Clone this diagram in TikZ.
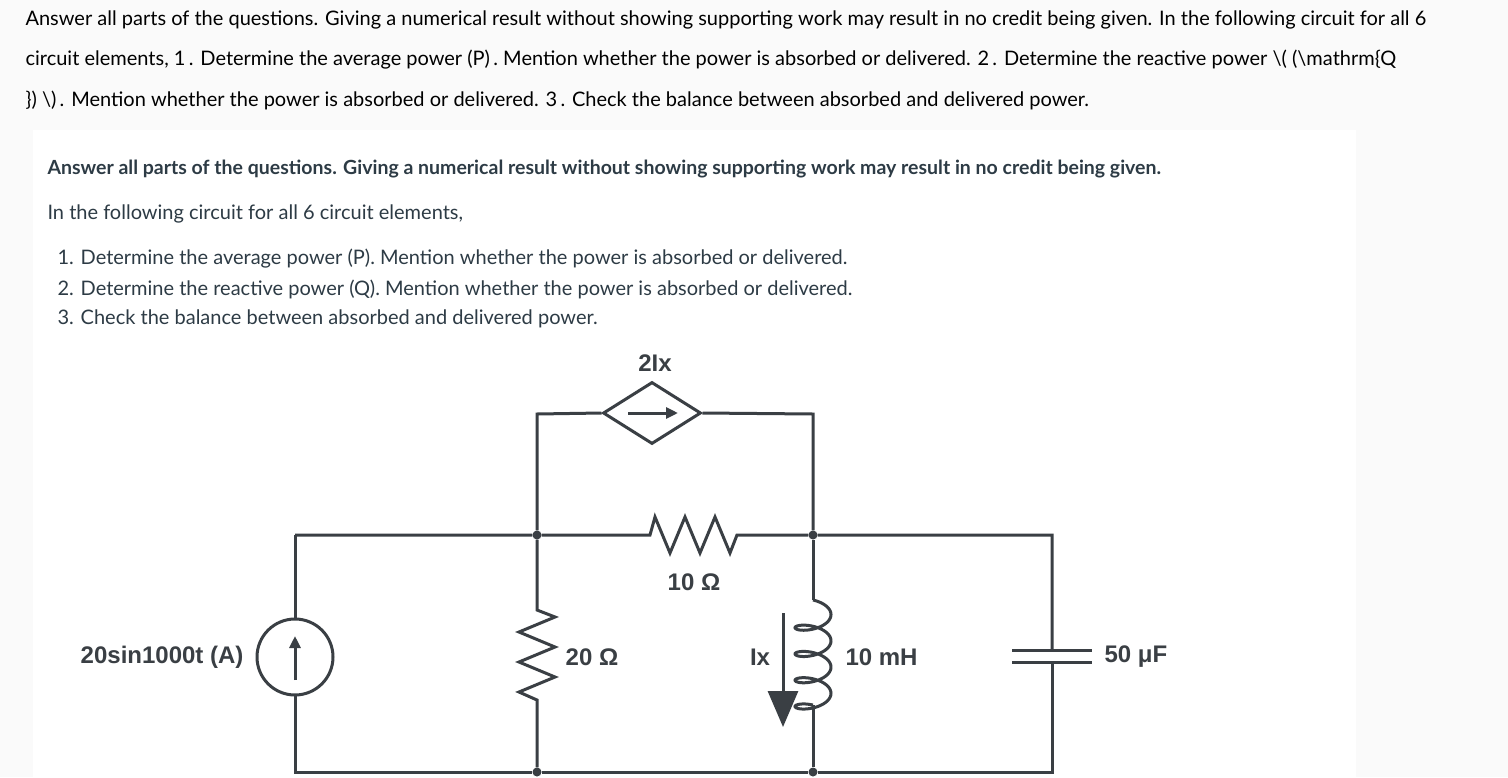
\documentclass[tikz,border=0pt]{standalone}
\usepackage{fontspec}
\setmainfont{Lato}
\newfontfamily\arialf{Liberation Sans}
\usetikzlibrary{arrows.meta,shapes.geometric}
\definecolor{wire}{HTML}{3A3F44}
\definecolor{txt}{HTML}{2D3B45}
\begin{document}
\begin{tikzpicture}[x=1pt,y=-1pt,
  w/.style={draw=wire,line width=3pt},
  dot/.style={circle,fill=wire,inner sep=0pt,minimum size=9pt},
  lab/.style={font=\arialf\bfseries\fontsize{24}{28}\selectfont,text=wire},
  q/.style={anchor=west,font=\fontsize{20}{24}\selectfont,text=black},
  p/.style={anchor=west,font=\fontsize{20}{24}\selectfont,text=txt}]
\fill[black!2] (0,0) rectangle (1508,777);
\fill[white] (33,130) rectangle (1356,777);
\useasboundingbox (0,0) rectangle (1508,777);
\node[q] (t1) at (22,20) {Answer all parts of the questions. Giving a numerical result without showing supporting work may result in no credit being given. In the following circuit for all 6};
\node[q] (t2) at (22,60) {circuit elements, 1\,. Determine the average power (P)\,. Mention whether the power is absorbed or delivered. 2\,. Determine the reactive power \textbackslash( (\textbackslash mathrm\{Q};
\node[q] (t3) at (22,100) {\}) \textbackslash)\,. Mention whether the power is absorbed or delivered. 3\,. Check the balance between absorbed and delivered power.};
\node[p,font=\bfseries\fontsize{19.5}{24}\selectfont] (h) at (44,169) {Answer all parts of the questions. Giving a numerical result without showing supporting work may result in no credit being given.};
\node[p] (l0) at (44,214) {In the following circuit for all 6 circuit elements,};
\node[p] (l1) at (54,259) {1. Determine the average power (P). Mention whether the power is absorbed or delivered.};
\node[p] (l2) at (54,289) {2. Determine the reactive power (Q). Mention whether the power is absorbed or delivered.};
\node[p] (l3) at (54,319) {3. Check the balance between absorbed and delivered power.};
% nodes
\node[dot] (a) at (537,535) {};
\node[dot] (b) at (813,535) {};
\node[dot] (c) at (537,772) {};
\node[dot] (d) at (813,772) {};
\coordinate (tl) at (295,535); \coordinate (bl) at (295,777);
\coordinate (tr) at (1052,535); \coordinate (br) at (1052,772);
% wires
\draw[w] (tl) -- (a) -- (650,535) -- (655,517) -- (670,553) -- (685,517) -- (700,553) -- (715,517) -- (730,553) -- (737,535) -- (b) -- (tr) -- (1052,650);
\draw[w] (1052,662) -- (br) -- (d) -- (c) -- (295,772) -- (295,695);
\draw[w] (tl) -- (295,619);
\draw[w] (1012,650) -- (1092,650); \draw[w] (1012,662) -- (1092,662);
\node[circle,draw=wire,line width=3pt,minimum size=76pt,inner sep=0pt] (src) at (295,657) {};
\draw[wire,line width=3pt,-{Triangle[length=12pt,width=11pt]}] (295,680) -- (295,636);
\draw[w] (a) -- (537,610) -- (555,617) -- (519,632) -- (555,647) -- (519,662) -- (555,677) -- (519,692) -- (537,700) -- (c);
% dependent source
\node[diamond,draw=wire,line width=3pt,minimum width=98pt,minimum height=62pt,inner sep=0pt,aspect=1.6] (ds) at (652,413) {};
\draw[w] (a) -- (537,414) -- (ds.west); \draw[w] (ds.east) -- (813,414) -- (b);
\draw[wire,line width=3pt,-{Triangle[length=12pt,width=11pt]}] (628,413) -- (678,413);
% inductor
\draw[w] (b) -- (813,600);
\draw[w] plot[domain=0:25.1327,samples=240,smooth] ({813+18*sin(\x r)},{600+4.18*\x-8*cos(\x r)+8});
\draw[w] (813,705) -- (d);
\draw[wire,line width=3pt,-{Triangle[length=36pt,width=30pt]}] (783,613) -- (783,727);
% labels
\node[lab] (l2ix) at (655,363) {2Ix};
\node[lab] (l10) at (694,582) {10 Ω};
\node[lab] (l20) at (592,657) {20 Ω};
\node[lab,anchor=east] (ls) at (247,657) {20sin1000t (A)};
\node[lab] (lix) at (760,657) {Ix};
\node[lab,anchor=west] (lmh) at (842,657) {10 mH};
\node[lab,anchor=west] (luf) at (1101,657) {50 μF};
\end{tikzpicture}
\end{document}
